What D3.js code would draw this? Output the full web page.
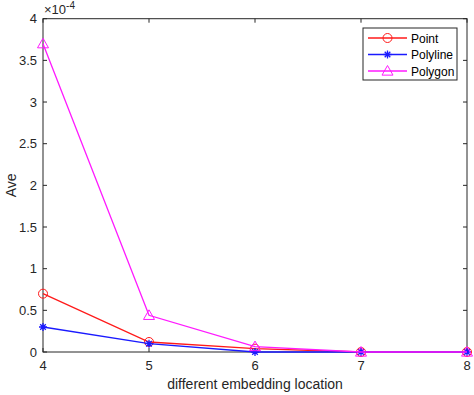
<!DOCTYPE html>
<html><head><meta charset="utf-8">
<script src="https://cdn.jsdelivr.net/npm/d3@7"></script>
<style>body{margin:0;background:#fff;}svg{display:block;font-family:Arial,"Liberation Sans",sans-serif;}</style>
</head><body>
<svg id="c" width="474" height="395"></svg>
<script>
const xValues = [4, 5, 6, 7, 8];
const pointSeries = [0.70, 0.12, 0.04, 0.0, 0.0];
const polylineSeries = [0.30, 0.10, 0.0, 0.0, 0.0];
const polygonSeries = [3.70, 0.44, 0.065, 0.0, 0.0];
const yTicks = [0, 0.5, 1, 1.5, 2, 2.5, 3, 3.5, 4];
const seriesNames = ["Point", "Polyline", "Polygon"];

const svg = d3.select("#c");
const m = {l:43, r:467, t:18.7, b:352};
const x = d3.scaleLinear().domain([4, 8]).range([m.l, m.r]);
const y = d3.scaleLinear().domain([0, 4]).range([m.b, m.t]);
const axisCol = "#262626";

const g = svg.append("g");
// box
g.append("rect").attr("x", m.l).attr("y", m.t).attr("width", m.r - m.l).attr("height", m.b - m.t)
  .attr("fill", "none").attr("stroke", axisCol).attr("stroke-width", 1);

// ticks
const tl = 4;
xValues.forEach(v => {
  g.append("line").attr("x1", x(v)).attr("x2", x(v)).attr("y1", m.b).attr("y2", m.b - tl).attr("stroke", axisCol);
  g.append("line").attr("x1", x(v)).attr("x2", x(v)).attr("y1", m.t).attr("y2", m.t + tl).attr("stroke", axisCol);
  g.append("text").attr("x", x(v)).attr("y", m.b + 18).attr("text-anchor", "middle")
    .attr("font-size", 13).attr("fill", axisCol).text(v);
});
yTicks.forEach(v => {
  g.append("line").attr("x1", m.l).attr("x2", m.l + tl).attr("y1", y(v)).attr("y2", y(v)).attr("stroke", axisCol);
  g.append("line").attr("x1", m.r).attr("x2", m.r - tl).attr("y1", y(v)).attr("y2", y(v)).attr("stroke", axisCol);
  g.append("text").attr("x", m.l - 6).attr("y", y(v) + 4.5).attr("text-anchor", "end")
    .attr("font-size", 13).attr("fill", axisCol).text(v);
});

// exponent label
const ex = g.append("text").attr("x", m.l + 1).attr("y", m.t - 5).attr("font-size", 13).attr("fill", axisCol);
ex.append("tspan").text("\u00d710");
ex.append("tspan").attr("dy", -5).attr("font-size", 10).text("-4");

// axis labels
g.append("text").attr("x", (m.l + m.r) / 2).attr("y", 389).attr("text-anchor", "middle")
  .attr("font-size", 14).attr("fill", axisCol).text("different embedding location");
g.append("text").attr("transform", `translate(16,${(m.t + m.b) / 2}) rotate(-90)`).attr("text-anchor", "middle")
  .attr("font-size", 14).attr("fill", axisCol).text("Ave");

const series = [
  {name: seriesNames[0], vals: pointSeries, color: "#ff1a1a", marker: "circle"},
  {name: seriesNames[1], vals: polylineSeries, color: "#1a1aff", marker: "star"},
  {name: seriesNames[2], vals: polygonSeries, color: "#ff1aff", marker: "triangle"}
];

function drawMarker(sel, type, cx, cy, color) {
  if (type === "circle") {
    sel.append("circle").attr("cx", cx).attr("cy", cy).attr("r", 4.5).attr("fill", "none").attr("stroke", color).attr("stroke-width", 1);
  } else if (type === "triangle") {
    const s = 5.5;
    sel.append("path").attr("d", `M${cx},${cy - s}L${cx + s},${cy + s * 0.75}L${cx - s},${cy + s * 0.75}Z`)
      .attr("fill", "none").attr("stroke", color).attr("stroke-width", 1);
  } else {
    const s = 4;
    const d = [[0,-s,0,s],[-s,0,s,0],[-s*0.7,-s*0.7,s*0.7,s*0.7],[-s*0.7,s*0.7,s*0.7,-s*0.7]]
      .map(a => `M${cx + a[0]},${cy + a[1]}L${cx + a[2]},${cy + a[3]}`).join("");
    sel.append("path").attr("d", d).attr("stroke", color).attr("stroke-width", 1.3);
  }
}

const line = d3.line().x(d => x(d[0])).y(d => y(d[1]));
series.forEach(s => {
  const pts = xValues.map((v, i) => [v, s.vals[i]]);
  g.append("path").attr("d", line(pts)).attr("fill", "none").attr("stroke", s.color).attr("stroke-width", 1.3);
  pts.forEach(p => drawMarker(g, s.marker, x(p[0]), y(p[1]), s.color));
});

// legend
const lg = svg.append("g");
lg.append("rect").attr("x", 363).attr("y", 28).attr("width", 94).attr("height", 52)
  .attr("fill", "#fff").attr("stroke", axisCol).attr("stroke-width", 1);
series.forEach((s, i) => {
  const ly = 38 + i * 16.5;
  lg.append("line").attr("x1", 368).attr("x2", 407).attr("y1", ly).attr("y2", ly).attr("stroke", s.color).attr("stroke-width", 1.3);
  drawMarker(lg, s.marker, 387.5, ly, s.color);
  lg.append("text").attr("x", 411).attr("y", ly + 4.5).attr("font-size", 12).attr("fill", "#000").text(s.name);
});
</script>
</body></html>
